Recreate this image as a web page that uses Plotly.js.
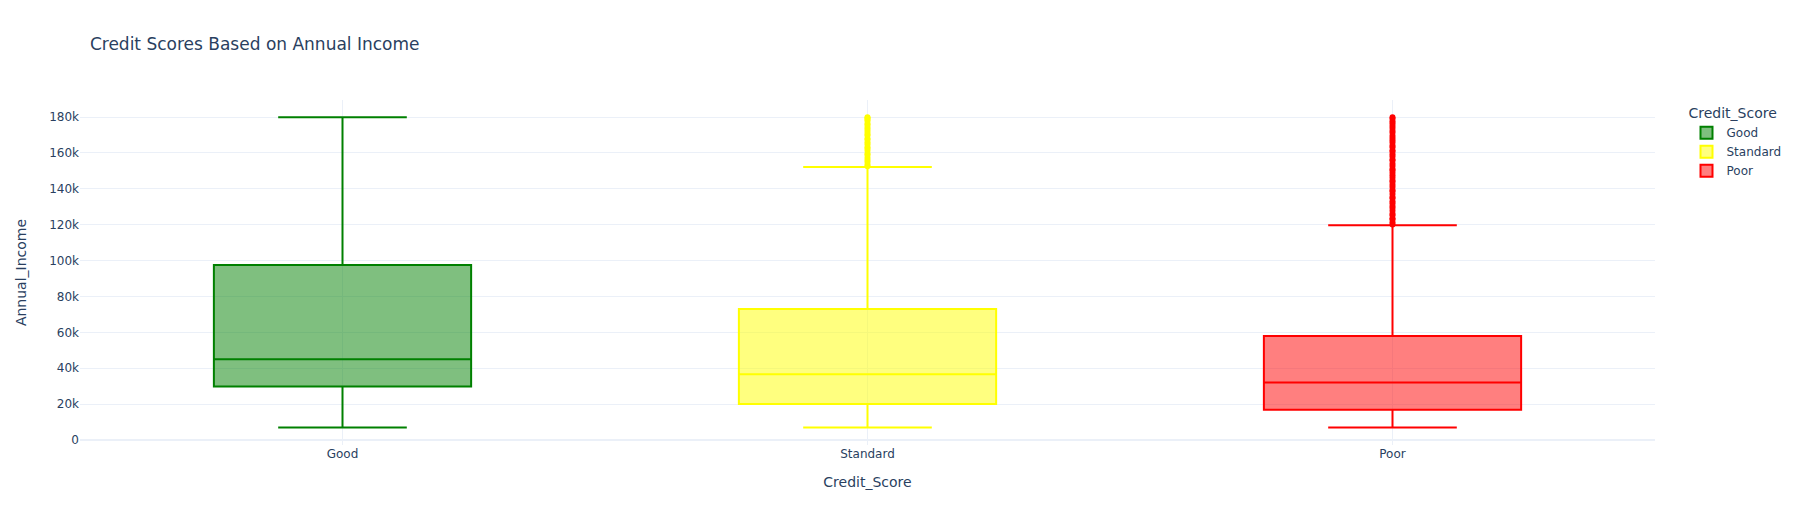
<!DOCTYPE html>
<html>
<head>
<meta charset="utf-8">
<script src="https://cdn.plot.ly/plotly-3.0.1.min.js"></script>
<style>
  html, body { margin: 0; padding: 0; background: #fff; }
  #myDiv { width: 1798px; height: 525px; }
</style>
</head>
<body>
<div id="myDiv"></div>
<script>
// categories and colours (one box per credit score)
var categories = ['Good', 'Standard', 'Poor'];
var colors = ['green', 'yellow', 'red'];

// box statistics
var lowerFence = [7006, 7006, 7006];
var q1 = [29800, 20000, 16800];
var median = [45000, 36700, 32100];
var q3 = [97500, 73000, 58000];
var upperFence = [179900, 152200, 119700];

// outliers above the upper fence
var outliersGood = [];
var outliersStandard = [152600, 153400, 154900, 156100, 157300, 158800, 159600, 161200, 162500, 163300,
  164900, 166000, 167400, 168100, 169700, 170500, 171800, 173100, 174200, 175600,
  176300, 177800, 178600, 179400, 179900];
var outliersPoor = [120100, 121300, 122900, 123600, 125200, 126100, 127700, 129300, 130400, 131900,
  133000, 134700, 135500, 137100, 138600, 139400, 141000, 142300, 143800, 144600,
  146200, 147500, 148900, 150300, 151100, 152700, 154000, 155600, 156400, 158000,
  159300, 160700, 161500, 163200, 164100, 165800, 167000, 168300, 169600, 171200,
  172400, 173900, 175100, 176500, 177700, 179000, 179900];
var outliers = [outliersGood, outliersStandard, outliersPoor];

var fills = ['rgba(0,128,0,0.5)', 'rgba(255,255,0,0.5)', 'rgba(255,0,0,0.5)'];

var data = [];
categories.forEach(function (cat, i) {
  data.push({
    type: 'box',
    name: cat,
    legendgroup: cat,
    x: [cat],
    q1: [q1[i]],
    median: [median[i]],
    q3: [q3[i]],
    lowerfence: [lowerFence[i]],
    upperfence: [upperFence[i]],
    width: 0.49,
    line: {color: colors[i], width: 2},
    fillcolor: fills[i],
    hoverinfo: 'skip'
  });
});
categories.forEach(function (cat, i) {
  if (!outliers[i].length) return;
  data.push({
    type: 'scatter',
    mode: 'markers',
    x: outliers[i].map(function () { return cat; }),
    y: outliers[i],
    legendgroup: cat,
    showlegend: false,
    marker: {color: colors[i], size: 6},
    hoverinfo: 'y'
  });
});

var axisColor = '#EBF0F8';
var layout = {
  width: 1798,
  height: 525,
  font: {family: 'Verdana, "DejaVu Sans", sans-serif', size: 12, color: '#2a3f5f'},
  paper_bgcolor: 'white',
  plot_bgcolor: 'white',
  title: {text: 'Credit Scores Based on Annual Income', x: 0.05, xref: 'container', font: {size: 17}},
  margin: {t: 100, b: 80, l: 80, r: 80},
  boxmode: 'overlay',
  showlegend: true,
  legend: {title: {text: 'Credit_Score'}, tracegroupgap: 0},
  xaxis: {
    type: 'category',
    categoryorder: 'array',
    categoryarray: categories,
    range: [-0.5, 2.5],
    title: {text: 'Credit_Score', standoff: 17},
    automargin: true,
    showline: false,
    zeroline: false,
    gridcolor: axisColor
  },
  yaxis: {
    title: {text: 'Annual_Income', standoff: 19},
    automargin: true,
    range: [-2800, 189500],
    showline: false,
    gridcolor: axisColor,
    zerolinecolor: axisColor,
    zerolinewidth: 2
  }
};

Plotly.newPlot('myDiv', data, layout, {displayModeBar: false});
</script>
</body>
</html>
